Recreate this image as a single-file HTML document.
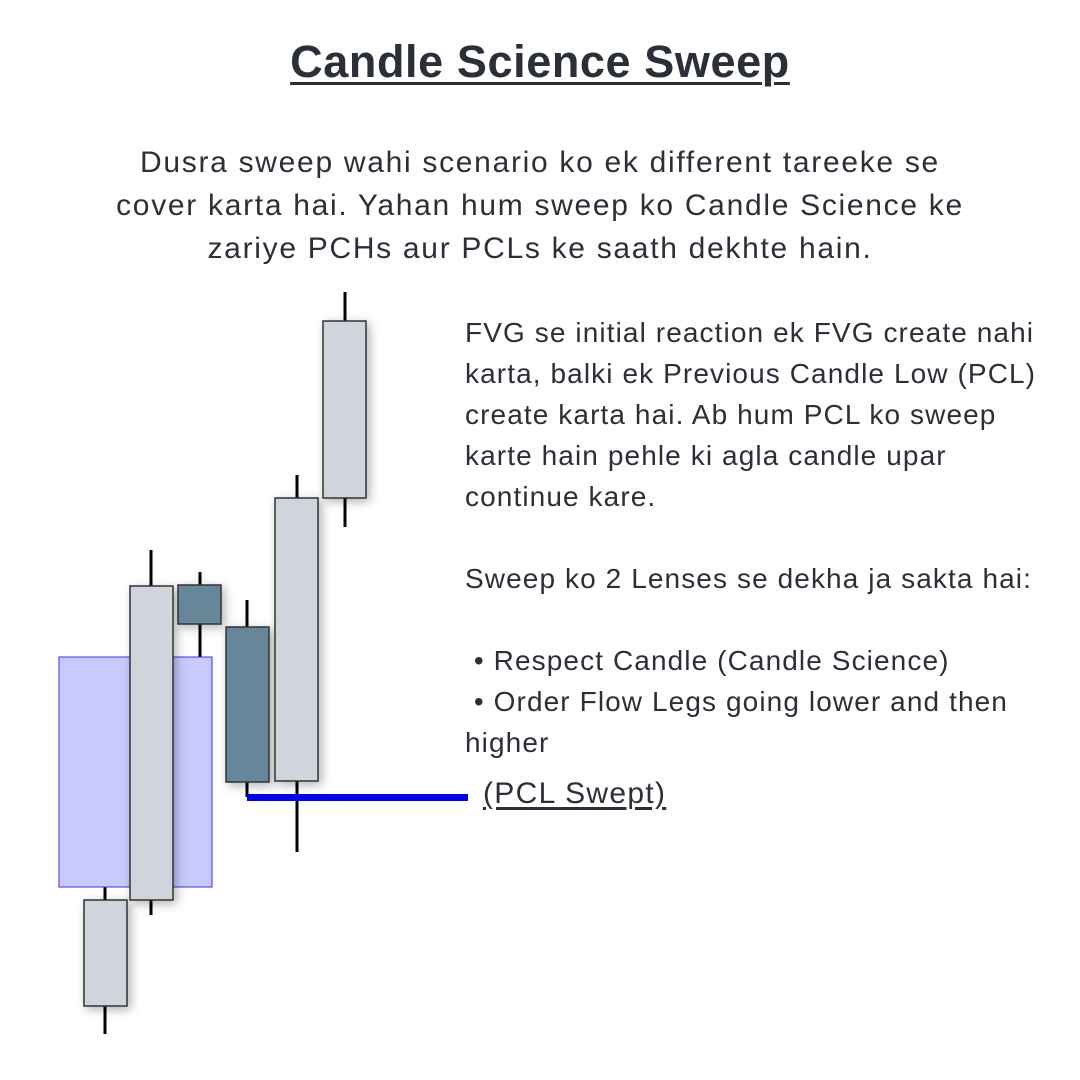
<!DOCTYPE html>
<html><head><meta charset="utf-8"><style>
body{margin:0;width:1080px;height:1080px;background:#fff;position:relative;overflow:hidden;font-family:"Liberation Sans",sans-serif;color:#2b3038}
.t{position:absolute;white-space:nowrap}
#title{left:0;width:1080px;text-align:center;top:36px;font-size:45px;font-weight:bold;letter-spacing:0.6px;text-decoration:underline;text-decoration-thickness:3px;text-underline-offset:5px}
#para{left:0;width:1080px;text-align:center;top:141px;font-size:30px;line-height:43px;letter-spacing:1.7px}
#right{left:465px;top:312px;font-size:28px;line-height:41px;letter-spacing:1.1px}
#pcl{left:483px;top:777px;font-size:30px;letter-spacing:1.3px;text-decoration:underline;text-underline-offset:4px}
svg{position:absolute;left:0;top:0}
</style></head><body>
<div class="t" id="title">Candle Science Sweep</div>
<div class="t" id="para">Dusra sweep wahi scenario ko ek different tareeke se<br>cover karta hai. Yahan hum sweep ko Candle Science ke<br>zariye PCHs aur PCLs ke saath dekhte hain.</div>
<div class="t" id="right">FVG se initial reaction ek FVG create nahi<br>karta, balki ek Previous Candle Low (PCL)<br>create karta hai. Ab hum PCL ko sweep<br>karte hain pehle ki agla candle upar<br>continue kare.<br><br>Sweep ko 2 Lenses se dekha ja sakta hai:<br><br>&nbsp;• Respect Candle (Candle Science)<br>&nbsp;• Order Flow Legs going lower and then<br>higher</div>
<div class="t" id="pcl">(PCL Swept)</div>
<svg width="1080" height="1080">
<defs><filter id="sh" x="-50%" y="-20%" width="200%" height="140%"><feDropShadow dx="3" dy="3" stdDeviation="5" flood-opacity="0.3"/></filter></defs>
<g stroke="#000" stroke-width="3">
<line x1="105" y1="887" x2="105" y2="1034"/>
<line x1="151" y1="550" x2="151" y2="915"/>
<line x1="200" y1="572" x2="200" y2="657"/>
<line x1="247" y1="600" x2="247" y2="797"/>
<line x1="297" y1="475" x2="297" y2="852"/>
<line x1="345" y1="292" x2="345" y2="527"/>
</g>
<g stroke="#333" stroke-width="1.5" filter="url(#sh)">
<rect x="84" y="900" width="43" height="106" fill="#d0d4dc"/>
</g>
<rect x="59" y="657" width="153" height="230" fill="#c9c9fd" stroke="#3030ff" stroke-width="1"/>
<g stroke="#333" stroke-width="1.5" filter="url(#sh)">
<rect x="130" y="586" width="43" height="314" fill="#d0d4dc"/>
<rect x="178" y="585" width="43" height="39" fill="#66869a"/>
<rect x="226" y="627" width="43" height="155" fill="#66869a"/>
<rect x="275" y="498" width="43" height="283" fill="#d0d4dc"/>
<rect x="323" y="321" width="43" height="177" fill="#d0d4dc"/>
</g>
<rect x="247" y="794" width="221" height="7" fill="#0000ff"/>
</svg>
</body></html>
